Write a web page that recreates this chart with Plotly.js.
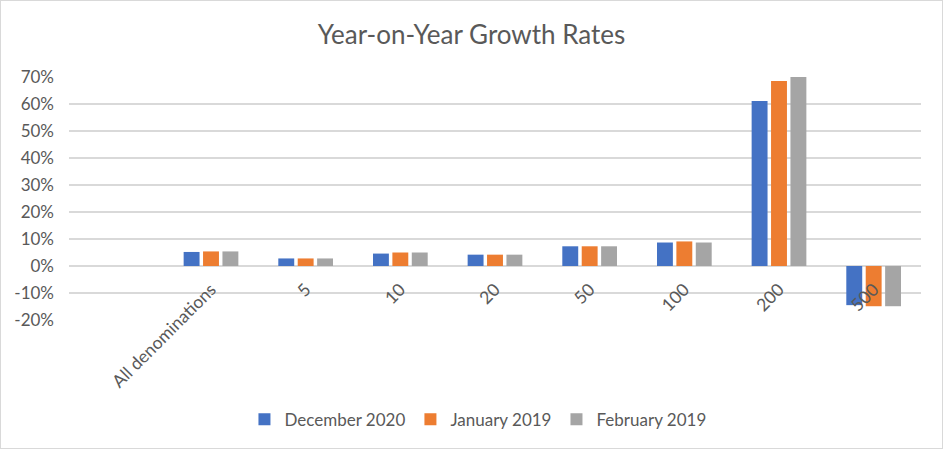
<!DOCTYPE html>
<html>
<head>
<meta charset="utf-8">
<script src="https://cdn.plot.ly/plotly-3.0.1.min.js"></script>
<style>
  html, body { margin: 0; padding: 0; background: #fff; }
  #chart { width: 943px; height: 449px; box-sizing: border-box; border: 1px solid #d9d9d9; }
</style>
</head>
<body>
<div id="chart"></div>
<script>
const categories = ["All denominations", "5", "10", "20", "50", "100", "200", "500"];
const seriesNames = ["December 2020", "January 2019", "February 2019"];
const dec2020 = [5.2, 2.8, 4.6, 4.2, 7.3, 8.7, 61.1, -14.5];
const jan2019 = [5.4, 2.8, 5.0, 4.2, 7.3, 9.1, 68.5, -14.9];
const feb2019 = [5.4, 2.8, 5.0, 4.2, 7.3, 8.7, 70.0, -14.9];
const yTickVals = [-20, -10, 0, 10, 20, 30, 40, 50, 60, 70];
const yTickText = ["-20%", "-10%", "0%", "10%", "20%", "30%", "40%", "50%", "60%", "70%"];

const colors = ["#4472C4", "#ED7D31", "#A5A5A5"];
const FONT = "Lato, 'Open Sans', sans-serif";

const traces = [dec2020, jan2019, feb2019].map((vals, i) => ({
  type: "bar",
  name: seriesNames[i],
  x: categories,
  y: vals,
  marker: { color: colors[i] },
  hoverinfo: "skip"
}));

const yMin = -20, yMax = 70;
const layout = {
  width: 941,
  height: 447,
  margin: { l: 68, r: 21, t: 76, b: 127 },
  paper_bgcolor: "#ffffff",
  plot_bgcolor: "#ffffff",
  font: { family: FONT, color: "#595959", size: 17 },
  title: {
    text: "Year-on-Year Growth Rates",
    font: { family: FONT, size: 26, color: "#595959" },
    xref: "container",
    x: 0.5, xanchor: "center",
    y: 0.925, yanchor: "middle"
  },
  barmode: "group",
  bargap: 0.385,
  bargroupgap: 0.18,
  showlegend: true,
  legend: {
    orientation: "h",
    x: 0.48, xanchor: "center",
    y: -0.405, yanchor: "middle",
    font: { family: FONT, size: 17, color: "#595959" },
    itemwidth: 30,
    traceorder: "normal"
  },
  xaxis: {
    type: "category",
    range: [-1.5, 7.5],
    anchor: "free",
    position: (0 - yMin) / (yMax - yMin),
    showline: false,
    showgrid: false,
    zeroline: false,
    ticks: "",
    tickangle: -45,
    ticklabelstandoff: 9,
    tickfont: { family: FONT, size: 17.5, color: "#595959" },
    automargin: false,
    fixedrange: true
  },
  yaxis: {
    range: [yMin, yMax],
    tickvals: yTickVals,
    ticktext: yTickText,
    showgrid: true,
    gridcolor: "#d9d9d9",
    gridwidth: 1.3,
    zeroline: false,
    showline: false,
    ticks: "",
    ticklen: 0,
    ticklabelstandoff: 14,
    tickfont: { family: FONT, size: 17, color: "#595959" },
    automargin: false,
    fixedrange: true
  }
};

Plotly.newPlot("chart", traces, layout, { displayModeBar: false, staticPlot: true });
</script>
</body>
</html>
